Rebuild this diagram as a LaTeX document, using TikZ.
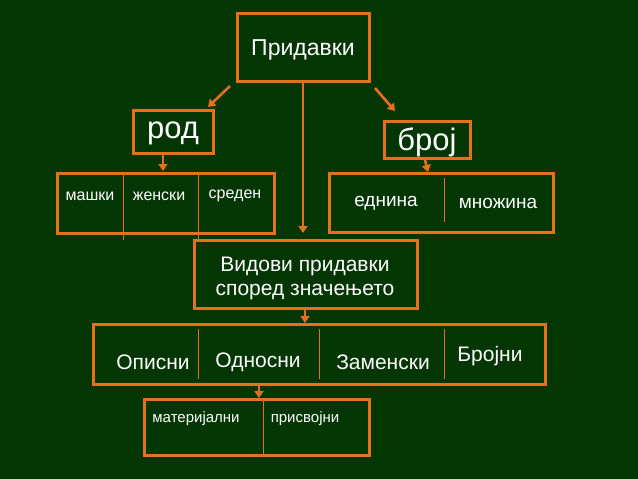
\documentclass[tikz,border=0pt]{standalone}
\usepackage{fontspec}
\setmainfont{Liberation Sans}
\usetikzlibrary{arrows.meta}
\definecolor{bg}{RGB}{4,54,4}
\definecolor{org}{RGB}{232,112,28}
\begin{document}
\begin{tikzpicture}[x=1pt,y=-1pt,
  box/.style={draw=org,line width=3pt},
  sep/.style={draw=org,line width=1pt},
  arr/.style={draw=org,line width=2.6pt,-{Triangle[length=7pt,width=9pt]}},
  txt/.style={text=white,inner sep=0pt,anchor=center}]
\fill[bg] (0,0) rectangle (638,479);
\useasboundingbox (0,0) rectangle (638,479);
% boxes
\draw[box] (237,13) rectangle (369,81);
\node[txt,font=\fontsize{23}{26}\selectfont] (pr) at (303,50) {Придавки};
\coordinate (prl) at (230,86); \coordinate (prr) at (375,88); \coordinate (prb) at (303,82);
\draw[box] (133,110) rectangle (213,153);
\node[txt,font=\fontsize{31}{33}\selectfont] (rod) at (173,133) {род};
\coordinate (rodt) at (208,107); \coordinate (rodb) at (163,155);
\draw[box] (384,121) rectangle (470,158);
\node[txt,font=\fontsize{31}{33}\selectfont] (broj) at (427,142) {број};
\coordinate (brojt) at (395,111); \coordinate (brojb) at (425,160);
\draw[box] (57,173) rectangle (274,233);
\draw[sep] (123,173) -- (123,240); \draw[sep] (198,173) -- (198,240);
\coordinate (gt) at (163,171);
\node[txt,font=\fontsize{16}{18}\selectfont] (m) at (90,196) {машки};
\node[txt,font=\fontsize{16}{18}\selectfont] (z) at (159,196) {женски};
\node[txt,font=\fontsize{16}{18}\selectfont] (s) at (235,196) {среден};
\draw[box] (329,173) rectangle (553,232);
\draw[sep] (444,178) -- (444,222);
\coordinate (nt) at (428,172);
\node[txt,font=\fontsize{19}{21}\selectfont] (e) at (386,203) {еднина};
\node[txt,font=\fontsize{19}{21}\selectfont] (mn) at (498,203) {множина};
\draw[box] (194,240) rectangle (417,308);
\node[txt,font=\fontsize{21}{24}\selectfont,align=center] (vid) at (305,278) {Видови придавки\\според значењето};
\coordinate (vt) at (303,233); \coordinate (vb) at (305,309);
\draw[box] (93,324) rectangle (545,384);
\foreach \x in {198,319,444} \draw[sep] (\x,329) -- (\x,379);
\coordinate (tt) at (305,323); \coordinate (tb) at (259,385);
\node[txt,font=\fontsize{21}{23}\selectfont] (o) at (153,362) {Описни};
\node[txt,font=\fontsize{21}{23}\selectfont] (od) at (258,362) {Односни};
\node[txt,font=\fontsize{21}{23}\selectfont] (za) at (383,362) {Заменски};
\node[txt,font=\fontsize{21}{23}\selectfont] (br) at (490,356) {Бројни};
\draw[box] (144,399) rectangle (369,455);
\draw[sep] (263,399) -- (263,455);
\coordinate (st) at (259,398);
\node[txt,font=\fontsize{15}{17}\selectfont] (ma) at (196,419) {материјални};
\node[txt,font=\fontsize{15}{17}\selectfont] (pri) at (305,419) {присвојни};
% arrows
\draw[arr] (prl) -- (rodt);
\draw[arr] (prr) -- (brojt);
\draw[arr] (prb) -- (vt);
\draw[arr] (rodb) -- (gt);
\draw[arr] (brojb) -- (nt);
\draw[arr] (vb) -- (tt);
\draw[arr] (tb) -- (st);
\end{tikzpicture}
\end{document}
